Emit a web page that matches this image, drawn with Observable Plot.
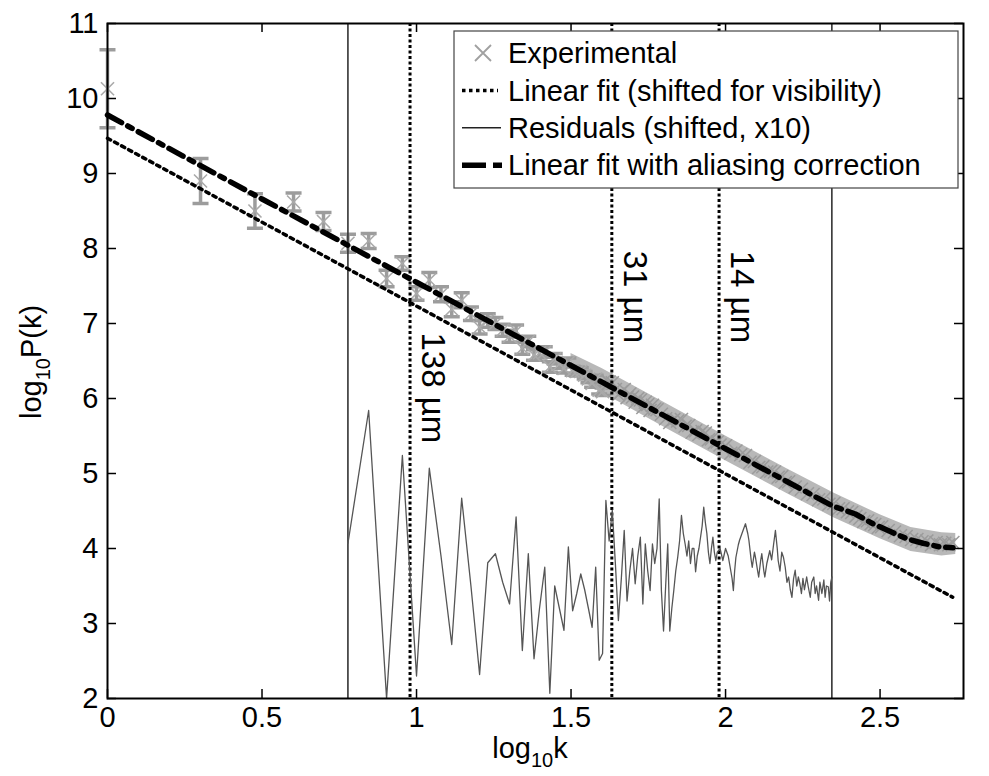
<!DOCTYPE html>
<html><head><meta charset="utf-8">
<script src="https://cdn.jsdelivr.net/npm/d3@7"></script>
<script src="https://cdn.jsdelivr.net/npm/@observablehq/plot@0.6"></script>
<style>html,body{margin:0;padding:0;background:#fff;} #chart{width:989px;height:776px;overflow:hidden}</style>
</head><body><div id="chart"></div>
<script>
// ---------- data ----------
const xTicks = [0, 0.5, 1, 1.5, 2, 2.5];
const yTicks = [2, 3, 4, 5, 6, 7, 8, 9, 10, 11];

// Linear fit (shifted for visibility)
const fitX = [0, 2.735];
const fitY = [9.47, 3.35];

// Linear fit with aliasing correction
const aliasX = [0, 0.5, 1.0, 1.5, 2.0, 2.2, 2.345, 2.42, 2.477, 2.542, 2.587, 2.639, 2.694, 2.736];
const aliasY = [9.78, 8.66, 7.55, 6.44, 5.33, 4.89, 4.57, 4.46, 4.33, 4.21, 4.13, 4.07, 4.02, 4.01];

// vertical markers
const solidLinesX = [0.778, 2.344];
const dottedLinesX = [0.979, 1.632, 1.979];
const dottedLabels = ["138 µm", "31 µm", "14 µm"];
const dottedLabelTop = [6.88, 7.97, 7.97];

// Experimental: individual wavenumbers with error bars
const expK = [1,2,3,4,5,6,7,8,9,10,11,12,13,14,15,16,17,18,19,20,21,22,23,24,25,26,27,28,29,30,31,32,33,34,35,36,37,38,39,40];
const expY = [10.13,8.9,8.5,8.62,8.36,8.07,8.1,7.6,7.8,7.4,7.58,7.39,7.19,7.31,7.13,6.95,7.04,7.0,6.91,6.83,6.9,6.67,6.76,6.58,6.61,6.62,6.42,6.53,6.46,6.4,6.48,6.37,6.36,6.36,6.31,6.26,6.2,6.26,6.11,6.09];
const expErr = [0.52,0.3,0.23,0.12,0.12,0.12,0.1,0.11,0.09,0.09,0.1,0.1,0.1,0.1,0.09,0.09,0.09,0.08,0.08,0.08,0.08,0.08,0.07,0.07,0.07,0.07,0.07,0.07,0.06,0.06,0.06,0.06,0.06,0.05,0.05,0.05,0.05,0.05,0.05,0.05];

// Experimental: dense high-k region
const denseK = [41,42,43,44,45,46,47,48,49,50,51,52,53,54,55,56,57,58,59,60,62,64,66,68,70,72,74,76,78,80,82,84,86,88,90,92,94,96,98,100,104,108,112,116,120,124,128,132,136,140,144,148,152,156,160,168,176,184,192,200,208,216,224,232,240,248,256,264,272,280,288,296,304,312,320,336,352,368,384,400,416,432,448,464,480,496,512,528,544];
const denseY = [6.25,6.22,6.21,6.12,6.05,6.09,6.12,6.01,6.06,6.02,5.95,6.0,5.98,5.88,5.95,5.92,5.84,5.91,5.86,5.85,5.79,5.73,5.68,5.72,5.7,5.72,5.63,5.64,5.55,5.57,5.52,5.56,5.54,5.45,5.46,5.41,5.42,5.38,5.33,5.37,5.27,5.3,5.25,5.24,5.15,5.16,5.08,5.09,5.02,5.03,5.02,4.95,4.96,4.88,4.89,4.82,4.79,4.73,4.72,4.65,4.66,4.59,4.6,4.53,4.53,4.49,4.48,4.43,4.4,4.36,4.37,4.33,4.32,4.28,4.29,4.24,4.22,4.17,4.16,4.12,4.12,4.09,4.1,4.05,4.08,4.05,4.07,4.05,4.08];

// spread of the dense experimental cloud
const bandX  = [1.5, 1.6, 1.8, 2.0, 2.2, 2.35, 2.5, 2.6, 2.7, 2.745];
const bandHi = [6.6, 6.4, 5.95, 5.5, 5.06, 4.74, 4.45, 4.28, 4.21, 4.2];
const bandLo = [6.36, 6.08, 5.62, 5.17, 4.73, 4.41, 4.13, 3.96, 3.9, 3.92];

// Residuals (shifted, x10)
const residK = [6,7,8,9,10,11,12,13,14,15,16,17,18,19,20,21,22,23,24,25,26,27,28,29,30,31,32,33,34,35,36,37,38,39,40,41,42,43,44,45,46,47,48,49,50,51,52,53,54,55,56,57,58,59,60,61,62,63,64,65,66,67,68,69,70,71,72,73,74,75,76,77,78,79,80,81,82,83,84,85,86,87,88,89,90,91,92,93,94,96,98,100,102,103,105,106,107,108,110,111,113,116,118,119,121,122,124,125,127,128,130,131,133,134,136,139,141,143,145,147,148,150,152,154,156,158,160,162,164,166,168,170,172,174,176,178,180,183,185,188,190,193,195,197,200,202,205,208,210,212,215,217,219,221];
const residV = [4.07,5.84,2.0,5.24,2.3,5.07,3.9,2.72,4.67,3.5,2.32,3.81,3.93,3.55,3.26,4.42,2.64,3.93,2.53,3.2,3.75,2.07,3.5,3.2,2.91,4.02,3.17,3.4,3.66,3.45,3.2,2.95,3.75,2.51,2.6,4.64,4.1,4.51,3.8,3.04,3.6,4.24,3.3,3.7,4.0,3.53,3.9,4.15,3.26,4.06,3.7,3.44,4.06,3.8,4.0,4.66,3.44,2.9,3.5,4.06,2.9,3.2,3.44,3.7,3.88,4.1,4.44,4.2,4.06,3.9,4.1,3.8,4.0,4.0,3.69,3.9,4.0,4.15,4.3,4.55,4.35,4.2,3.95,3.8,4.0,4.15,3.95,3.84,3.95,4.0,3.84,4.0,3.9,3.8,3.6,3.44,3.7,3.88,4.05,4.11,4.2,4.33,4.2,4.11,3.85,3.75,3.95,3.88,3.7,3.62,3.85,3.93,3.7,3.62,3.8,3.97,3.85,4.05,4.24,4.0,3.84,3.7,3.95,3.88,3.75,3.55,3.62,3.45,3.35,3.6,3.71,3.5,3.62,3.53,3.4,3.6,3.45,3.62,3.5,3.35,3.55,3.62,3.4,3.5,3.31,3.55,3.4,3.58,3.35,3.5,3.49,3.3,3.55,3.62];

const legendLabels = ["Experimental", "Linear fit (shifted for visibility)", "Residuals (shifted, x10)", "Linear fit with aliasing correction"];

// ---------- tables for the library ----------
const fit = fitX.map((x, i) => ({x, y: fitY[i]}));
const alias = aliasX.map((x, i) => ({x, y: aliasY[i]}));
const exp = expK.map((k, i) => ({x: Math.log10(k), y: expY[i], lo: expY[i] - expErr[i], hi: expY[i] + expErr[i]}));
const dense = denseK.map((k, i) => ({x: Math.log10(k), y: denseY[i]}));
const band = bandX.map((x, i) => ({x, lo: bandLo[i], hi: bandHi[i]}));
const resid = residK.map((k, i) => ({x: Math.log10(k), y: residV[i]}));
const labels = dottedLinesX.map((x, i) => ({x, y: dottedLabelTop[i], label: dottedLabels[i]}));

const FONT = "'Liberation Sans', Arial, Helvetica, sans-serif";
const GRAY = "#9c9c9c";
const capSymbol = {draw(ctx, size) { const w = Math.sqrt(size / Math.PI); ctx.moveTo(-w, 0); ctx.lineTo(w, 0); }};

const W = 989, H = 776, ML = 107, MR = 26, MT = 23, MB = 78;
const PW = W - ML - MR, PH = H - MT - MB, TICK = 9;

const chart = Plot.plot({
  width: W, height: H,
  marginLeft: ML, marginRight: MR, marginTop: MT, marginBottom: MB,
  style: {fontFamily: FONT, fontSize: "29px", color: "black", background: "white"},
  x: {domain: [0, 2.77], axis: null},
  y: {domain: [2, 11], axis: null},
  marks: [
    Plot.areaY(band, {x: "x", y1: "lo", y2: "hi", fill: "#b8b8b8"}),
    Plot.dot(dense, {x: "x", y: "y", symbol: "times", r: 6, stroke: GRAY, strokeWidth: 1.6}),
    Plot.ruleX(exp, {x: "x", y1: "lo", y2: "hi", stroke: GRAY, strokeWidth: 3.5}),
    Plot.dot(exp, {x: "x", y: "lo", symbol: capSymbol, r: 8, stroke: GRAY, fill: "none", strokeWidth: 3.5}),
    Plot.dot(exp, {x: "x", y: "hi", symbol: capSymbol, r: 8, stroke: GRAY, fill: "none", strokeWidth: 3.5}),
    Plot.dot(exp, {x: "x", y: "y", symbol: "times", r: 6, stroke: "#aaaaaa", strokeWidth: 1.6}),
    Plot.ruleX(dottedLinesX, {stroke: "black", strokeWidth: 3, strokeDasharray: "3,2.5"}),
    Plot.ruleX(solidLinesX, {stroke: "#333", strokeWidth: 1.6}),
    Plot.line(resid, {x: "x", y: "y", stroke: "#555", strokeWidth: 1.3, clip: true}),
    Plot.line(fit, {x: "x", y: "y", stroke: "black", strokeWidth: 3.5, strokeDasharray: "3.5,4.5"}),
    Plot.line(alias, {x: "x", y: "y", stroke: "black", strokeWidth: 5.5, strokeDasharray: "16,7,5,7"}),
    Plot.text(labels, {x: "x", y: "y", text: "label", rotate: 90, textAnchor: "start", lineAnchor: "middle", dx: 23, fontSize: 33, fill: "black"}),
    // inward ticks on all four sides
    Plot.ruleX(xTicks, {x: d => d, insetTop: PH - TICK, stroke: "black", strokeWidth: 1.5}),
    Plot.ruleX(xTicks, {x: d => d, insetBottom: PH - TICK, stroke: "black", strokeWidth: 1.5}),
    Plot.ruleY(yTicks, {y: d => d, insetRight: PW - TICK, stroke: "black", strokeWidth: 1.5}),
    Plot.ruleY(yTicks, {y: d => d, insetLeft: PW - TICK, stroke: "black", strokeWidth: 1.5}),
    Plot.frame({stroke: "black", strokeWidth: 2}),
    Plot.axisX({anchor: "bottom", ticks: xTicks, tickSize: 0, tickPadding: 8, tickFormat: d => String(d), label: null, fontSize: 29}),
    Plot.axisY({anchor: "left", ticks: yTicks, tickSize: 0, tickPadding: 9, tickFormat: d => String(d), label: null, fontSize: 29})
  ]
});
document.getElementById("chart").appendChild(chart);

// ---------- legend and axis titles ----------
const svg = d3.select(chart);
const lg = svg.append("g").attr("font-family", FONT).attr("font-size", 29).attr("fill", "black").attr("text-anchor", "start");
lg.append("rect").attr("x", 454).attr("y", 31).attr("width", 504).attr("height", 157)
  .attr("fill", "white").attr("stroke", "#444").attr("stroke-width", 1.2);
const rowY = i => 53 + i * 37.4;
legendLabels.forEach((t, i) => {
  lg.append("text").attr("x", 508).attr("y", rowY(i)).attr("dy", "0.35em").text(t);
});
// sample glyphs
const s0 = rowY(0);
lg.append("path").attr("d", `M475,${s0-8}L491,${s0+8}M475,${s0+8}L491,${s0-8}`).attr("stroke", "#a0a0a0").attr("stroke-width", 1.8);
lg.append("line").attr("x1", 462).attr("x2", 498).attr("y1", rowY(1)).attr("y2", rowY(1))
  .attr("stroke", "black").attr("stroke-width", 3.5).attr("stroke-dasharray", "3.5,3.5");
lg.append("line").attr("x1", 462).attr("x2", 501).attr("y1", rowY(2)).attr("y2", rowY(2))
  .attr("stroke", "#222").attr("stroke-width", 1.6);
lg.append("line").attr("x1", 462).attr("x2", 502).attr("y1", rowY(3)).attr("y2", rowY(3))
  .attr("stroke", "black").attr("stroke-width", 5.5).attr("stroke-dasharray", "24,7,9");

// x axis title
const xt = svg.append("text").attr("font-family", FONT).attr("font-size", 29).attr("fill", "black")
  .attr("text-anchor", "middle").attr("x", 530).attr("y", 758);
xt.append("tspan").text("log");
xt.append("tspan").attr("font-size", 20).attr("dy", 9).text("10");
xt.append("tspan").attr("dy", -9).text("k");

// y axis title
const yt = svg.append("text").attr("font-family", FONT).attr("font-size", 29).attr("fill", "black")
  .attr("text-anchor", "middle").attr("transform", "translate(41,362) rotate(-90)");
yt.append("tspan").text("log");
yt.append("tspan").attr("font-size", 20).attr("dy", 9).text("10");
yt.append("tspan").attr("dy", -9).text("P(k)");
</script>
</body></html>
